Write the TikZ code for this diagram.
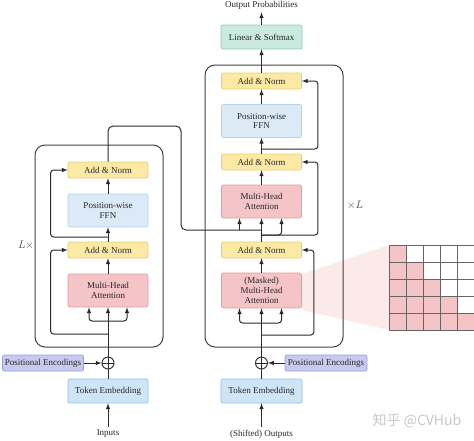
\documentclass[tikz,border=0pt]{standalone}
\usepackage{fontspec}
\setmainfont{Liberation Serif}
\newfontfamily\cjkfont{Noto Sans CJK SC}
\usepackage{amsmath}
\usepackage{tikz}

\definecolor{linecol}{HTML}{2B2B2B}
\definecolor{anfill}{HTML}{FCE9A4}
\definecolor{anedge}{HTML}{E9CD76}
\definecolor{ffnfill}{HTML}{DBEAF6}
\definecolor{ffnedge}{HTML}{B5D2EA}
\definecolor{mhafill}{HTML}{F4C4C7}
\definecolor{mhaedge}{HTML}{E09CA1}
\definecolor{linfill}{HTML}{CBEADF}
\definecolor{linedge}{HTML}{92CBB6}
\definecolor{embfill}{HTML}{CDE5F7}
\definecolor{embedge}{HTML}{8FC1E4}
\definecolor{pefill}{HTML}{C6CAEE}
\definecolor{peedge}{HTML}{99A0D8}
\definecolor{maskfill}{HTML}{F4C3C6}
\definecolor{conefill}{HTML}{FCEAEB}

\begin{document}
\begin{tikzpicture}[x=1pt,y=1pt]
				\tikzstyle{every node}+=[inner sep=0pt, text=black!85, font=\fontsize{9}{9.8}\selectfont]
				\tikzstyle{blk}=[rounded corners=2pt, line width=0.7pt, align=center, minimum width=80pt]
				\tikzstyle{addnorm}=[blk, draw=anedge, fill=anfill, minimum height=16pt]
				\tikzstyle{ffn}=[blk, draw=ffnedge, fill=ffnfill, minimum height=33pt]
				\tikzstyle{mha}=[blk, draw=mhaedge, fill=mhafill, minimum height=33pt]
				\tikzstyle{embed}=[blk, draw=embedge, fill=embfill, minimum height=24pt]
				\tikzstyle{posenc}=[blk, draw=peedge, fill=pefill, minimum height=16pt, minimum width=81pt]
				\tikzstyle{layer}=[draw=linecol!90, rounded corners=10pt, line width=1pt]
				\tikzstyle{txt}=[inner sep=3pt]
				\tikzstyle{wire}=[linecol, line width=1pt, rounded corners=3pt]
				\tikzstyle{oplus}=[circle, draw=linecol, line width=0.9pt, minimum size=12pt,
					path picture={\draw[linecol, line width=0.9pt] (path picture bounding box.west) -- (path picture bounding box.east) (path picture bounding box.north) -- (path picture bounding box.south);}]
				\useasboundingbox (0,0) rectangle (474,-440);
				\fill [conefill] (302,-274) -- (389,-245) -- (389,-330) -- (302,-310) -- cycle;
				\node [layer, minimum width=128pt, minimum height=202pt] (enclayer) at (99,-246) {};
				\node [layer, minimum width=138pt, minimum height=282pt] (declayer) at (274,-206) {};
				\node [text=black!70, font=\fontsize{10.5}{10.5}\selectfont] (encrep) at (26,-245) {$L\times$};
				\node [text=black!70, font=\fontsize{10.5}{10.5}\selectfont] (decrep) at (355,-205) {$\times L$};
				\node [addnorm] (encan2) at (108,-170) {Add \& Norm};
				\node [ffn] (encffn) at (108,-210.5) {Position-wise\\FFN};
				\node [addnorm] (encan1) at (108,-250) {Add \& Norm};
				\node [mha] (encmha) at (108,-290.5) {Multi-Head\\Attention};
				\node [oplus] (encsum) at (108,-363) {};
				\node [posenc] (encpe) at (43,-363) {Positional Encodings};
				\node [embed] (encemb) at (108,-391) {Token Embedding};
				\node [txt] (inputs) at (108,-434) {Inputs};
				\node [blk, draw=linedge, fill=linfill, minimum height=24pt, minimum width=81pt] (linear) at (261.5,-37) {Linear \& Softmax};
				\node [txt] (probs) at (261.5,-5) {Output Probabilities};
				\node [addnorm] (decan3) at (261.5,-81) {Add \& Norm};
				\node [ffn] (decffn) at (261.5,-121) {Position-wise\\FFN};
				\node [addnorm] (decan2) at (261.5,-162) {Add \& Norm};
				\node [mha] (decmha) at (261.5,-201.5) {Multi-Head\\Attention};
				\node [addnorm] (decan1) at (261.5,-250) {Add \& Norm};
				\node [mha, minimum height=35pt] (decmmha) at (261.5,-290.5) {(Masked)\\Multi-Head\\Attention};
				\node [oplus] (decsum) at (261.5,-363) {};
				\node [posenc, minimum width=82pt] (decpe) at (326,-363) {Positional Encodings};
				\node [embed, minimum width=81pt] (decemb) at (261.5,-391) {Token Embedding};
				\node [txt] (outputs) at (261.5,-434) {(Shifted) Outputs};
				\coordinate (encsplit) at (108,-321);
				\coordinate (encres1) at (108,-334);
				\coordinate (encres2) at (108,-237);
				\coordinate (encturn) at (181,-126);
				\coordinate (crossin) at (261.5,-230);
				\coordinate (crossk) at (239.5,-230);
				\coordinate (decsplit) at (261.5,-323);
				\coordinate (decres1) at (261.5,-335);
				\coordinate (decres2) at (261.5,-235);
				\coordinate (decres3) at (261.5,-149);
				\draw [wire, -latex] (inputs.north) -- (encemb.south);
				\draw [wire] (encemb.north) -- (encsum.south);
				\draw [wire, -latex] (encpe.east) -- (encsum.west);
				\draw [wire, -latex] (encsum.north) -- (encmha.south);
				\draw [wire, -latex] (encsplit) -| ([xshift=-19pt]encmha.south);
				\draw [wire, -latex] (encsplit) -| ([xshift=19pt]encmha.south);
				\draw [wire, -latex] (encres1) -| ([xshift=-17pt]encan1.west) -- (encan1.west);
				\draw [wire, -latex] (encmha.north) -- (encan1.south);
				\draw [wire, -latex] (encan1.north) -- (encffn.south);
				\draw [wire, -latex] (encres2) -| ([xshift=-17pt]encan2.west) -- (encan2.west);
				\draw [wire, -latex] (encffn.north) -- (encan2.south);
				\draw [wire, rounded corners=5pt] (encan2.north) |- (encturn) |- (crossin);
				\draw [wire, -latex] (crossk) -- ([xshift=-22pt]decmha.south);
				\draw [wire, -latex] (outputs.north) -- (decemb.south);
				\draw [wire] (decemb.north) -- (decsum.south);
				\draw [wire, -latex] (decpe.west) -- (decsum.east);
				\draw [wire, -latex] (decsum.north) -- (decmmha.south);
				\draw [wire, -latex] (decsplit) -| ([xshift=-22pt]decmmha.south);
				\draw [wire, -latex] (decsplit) -| ([xshift=20pt]decmmha.south);
				\draw [wire, -latex] (decres1) -| ([xshift=12pt]decan1.east) -- (decan1.east);
				\draw [wire, -latex] (decmmha.north) -- (decan1.south);
				\draw [wire, -latex] (decan1.north) -- (decmha.south);
				\draw [wire, -latex] (decres2) -| ([xshift=20pt]decmha.south);
				\draw [wire, -latex] (decres2) -| ([xshift=16pt]decan2.east) -- (decan2.east);
				\draw [wire, -latex] (decmha.north) -- (decan2.south);
				\draw [wire, -latex] (decan2.north) -- (decffn.south);
				\draw [wire, -latex] (decres3) -| ([xshift=16pt]decan3.east) -- (decan3.east);
				\draw [wire, -latex] (decffn.north) -- (decan3.south);
				\draw [wire, -latex] (decan3.north) -- (linear.south);
				\draw [wire, -latex] (linear.north) -- (probs.south);
				\foreach \r in {0,...,4} {
					\foreach \c in {0,...,\r} {
						\fill [maskfill] (389+17*\c,-245-17*\r) rectangle ++(17,-17);
					}
				}
				\foreach \k in {0,...,5} {
					\draw [black!60, line width=0.6pt] (389+17*\k,-245) -- ++(0,-85);
					\draw [black!60, line width=0.6pt] (389,-245-17*\k) -- ++(85,0);
				}
				\node [text=black!22, font=\cjkfont\fontsize{14}{14}\selectfont] (mark) at (417,-421) {知乎 @CVHub};
			\end{tikzpicture}
\end{document}
